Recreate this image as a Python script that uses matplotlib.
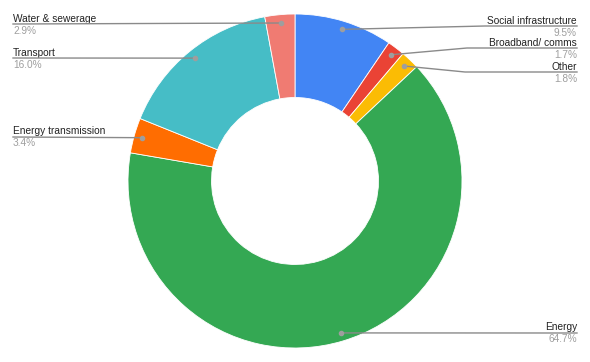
import numpy as np
import matplotlib
matplotlib.use("Agg")
import matplotlib.pyplot as plt

plt.rcParams['font.family'] = ['Liberation Sans', 'DejaVu Sans']

categories = ["Social infrastructure", "Broadband/ comms", "Other", "Energy",
              "Energy transmission", "Transport", "Water & sewerage"]
values = [9.5, 1.7, 1.8, 64.7, 3.4, 16.0, 2.9]
pct_labels = ["9.5%", "1.7%", "1.8%", "64.7%", "3.4%", "16.0%", "2.9%"]
colors = ["#4285F4", "#EA4335", "#FBBC04", "#34A853", "#FF6D01", "#46BDC6", "#F07B72"]

W, H = 590, 362
cx, cy = 295, H - 181
R = 167

# label layout (pixel coords, y from top): side, line y, elbow x
layout = {
    "Social infrastructure": ("right", 26, 485),
    "Broadband/ comms": ("right", 48, 467),
    "Other": ("right", 72, 465),
    "Energy": ("right", 333, None),
    "Energy transmission": ("left", 137, None),
    "Transport": ("left", 58, None),
    "Water & sewerage": ("left", 24, None),
}

fig = plt.figure(figsize=(W / 100, H / 100), dpi=100)
ax = fig.add_axes([0, 0, 1, 1])
wedges, _ = ax.pie(values, colors=colors, radius=R, center=(cx, cy),
                   startangle=90, counterclock=False,
                   wedgeprops=dict(width=R * 0.5, edgecolor='white', linewidth=0.6))
ax.set_xlim(0, W)
ax.set_ylim(0, H)
ax.set_aspect('equal')
ax.axis('off')

line_c = "#8a8a8a"
fs = 7.3
for w, name, pct in zip(wedges, categories, pct_labels):
    ang = np.deg2rad((w.theta1 + w.theta2) / 2)
    px = cx + 0.95 * R * np.cos(ang)
    py = cy + 0.95 * R * np.sin(ang)
    side, ly, ex = layout[name]
    ly = H - ly
    ax.plot(px, py, 'o', color="#9e9e9e", ms=3, zorder=5)
    if side == "left":
        ax.plot([13, px], [ly, py], color=line_c, lw=1, zorder=4)
        ax.text(13, ly + 2.5, name, ha='left', va='baseline', fontsize=fs, color="#222222")
        ax.text(13, ly - 1.5, pct, ha='left', va='top', fontsize=fs, color="#9e9e9e")
    else:
        if ex is None:
            ax.plot([px, 577], [py, ly], color=line_c, lw=1, zorder=4)
        else:
            ax.plot([px, ex, 577], [py, ly, ly], color=line_c, lw=1, zorder=4)
        ax.text(577, ly + 2.5, name, ha='right', va='baseline', fontsize=fs, color="#222222")
        ax.text(577, ly - 1.5, pct, ha='right', va='top', fontsize=fs, color="#9e9e9e")

fig.savefig("out.png", dpi=100)
